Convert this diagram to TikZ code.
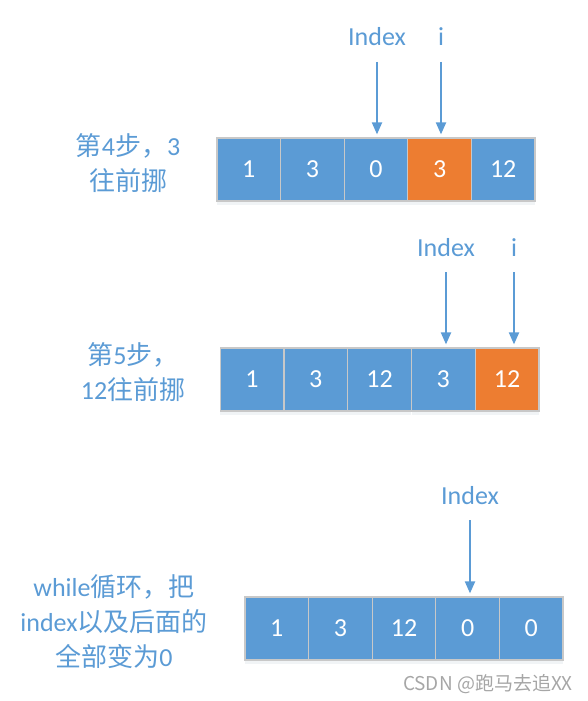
\documentclass[tikz,border=0pt]{standalone}
\usepackage{fontspec}
\setmainfont{Carlito}
\newfontfamily\cjk{Noto Sans CJK SC}
\usetikzlibrary{arrows.meta,positioning,shadows}
\definecolor{cellblue}{HTML}{5B9BD5}
\definecolor{cellorange}{HTML}{ED7D31}
\definecolor{cellline}{HTML}{C8C8C8}
\definecolor{markgray}{HTML}{A6A6A6}

\begin{document}
\begin{tikzpicture}[
        x=1pt,
        y=-1pt,
        font=\fontsize{26}{35}\selectfont,
        cell/.style={draw=cellline, line width=1.2pt, fill=cellblue, text=white,
            minimum width=63.6pt, minimum height=63pt, inner sep=0pt,
            drop shadow={shadow xshift=0pt, shadow yshift=-4pt, opacity=0.07, fill=cellblue!60!black}},
        tag/.style={text=cellblue, inner sep=0pt, anchor=base},
        ptr/.style={-{Triangle[length=12pt,width=10pt]}, cellblue, line width=2pt, shorten >=3pt},
        note/.style={text=cellblue, align=center, inner sep=0pt}
    ]
        \useasboundingbox (0,0) rectangle (588,701);

        % step 4
        \foreach \v/\c [count=\k] in {1/cellblue,3/cellblue,0/cellblue,3/cellorange,12/cellblue} {
            \node[cell, fill=\c] (a\k) at ({217+63.6*\k-31.8},169.5) {\v};
        }
        \node[tag] (idxA) at (377,46) {Index};
        \node[tag] (iA) at (441,46) {i};
        \draw[ptr] ([yshift=-16pt]idxA.base) -- (idxA.base |- a3.north);
        \draw[ptr] ([yshift=-16pt]iA.base) -- (iA.base |- a4.north);
        \node[note] (noteA) at (128,163.5) {{\cjk 第}4{\cjk 步，}3\\{\cjk 往前挪}};

        % step 5
        \foreach \v/\c [count=\k] in {1/cellblue,3/cellblue,12/cellblue,3/cellblue,12/cellorange} {
            \node[cell, fill=\c] (b\k) at ({220+63.8*\k-31.9},379.5) {\v};
        }
        \node[tag] (idxB) at (446,256) {Index};
        \node[tag] (iB) at (514,256) {i};
        \draw[ptr] ([yshift=-16pt]idxB.base) -- (idxB.base |- b4.north);
        \draw[ptr] ([yshift=-16pt]iB.base) -- (iB.base |- b5.north);
        \node[note] (noteB) at (133,372) {{\cjk 第}5{\cjk 步，}\\12{\cjk 往前挪}};

        % while loop
        \foreach \v [count=\k] in {1,3,12,0,0} {
            \node[cell] (c\k) at ({245+63.6*\k-31.8},628.5) {\v};
        }
        \node[tag] (idxC) at (470,504) {Index};
        \draw[ptr] ([yshift=-16pt]idxC.base) -- (idxC.base |- c4.north);
        \node[note] (noteC) at (114,622) {while{\cjk 循环，把}\\index{\cjk 以及后面的}\\{\cjk 全部变为}0};

        \node[anchor=base east, inner sep=0pt, text=markgray, font=\fontsize{19}{22}\selectfont]
            (mark) at (573,690) {\cjk CSDN @跑马去追XX};
    \end{tikzpicture}
\end{document}
